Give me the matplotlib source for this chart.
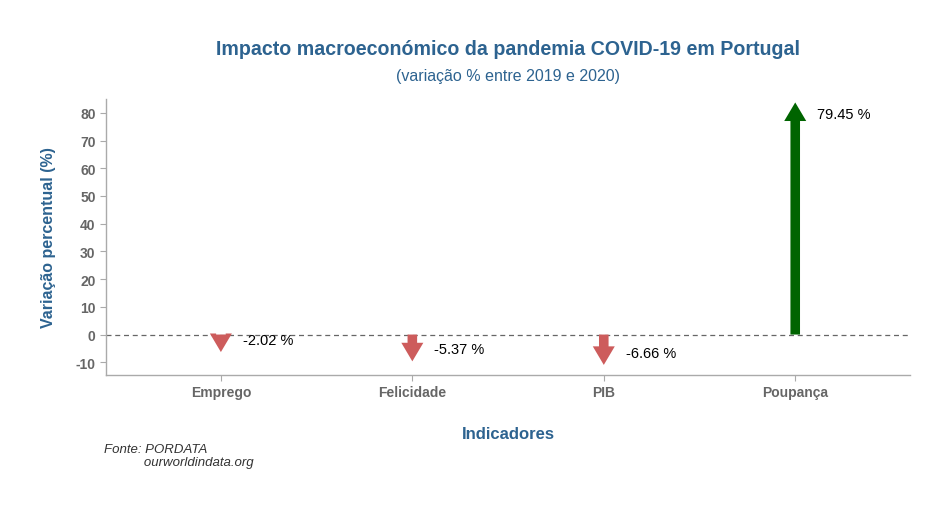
import matplotlib
matplotlib.use("Agg")
import matplotlib.pyplot as plt

# Data
indicadores = ["Emprego", "Felicidade", "PIB", "Poupança"]
variacao = [-2.02, -5.37, -6.66, 79.45]
yticks = [-10, 0, 10, 20, 30, 40, 50, 60, 70, 80]

plt.rcParams['font.family'] = ['Liberation Sans', 'DejaVu Sans']
plt.rcParams['axes.unicode_minus'] = False

azul = '#2d6390'
cinza = '#666666'

fig = plt.figure(figsize=(9.5, 5.06), dpi=100)
ax = fig.add_axes([0.1116, 0.2569, 0.8464, 0.5455])

ax.set_xlim(-0.6, 3.6)
ax.set_ylim(-14.6, 85)

# zero line
ax.axhline(0, color=cinza, linestyle=(0, (4, 3)), linewidth=0.9, zorder=1)

for i, v in enumerate(variacao):
    cor = '#006400' if v > 0 else '#cd5c5c'
    sinal = 1 if v > 0 else -1
    comp = v + sinal * 4.3
    ax.arrow(i, 0, 0, comp, width=0.05, head_width=0.115, head_length=6.7,
             length_includes_head=True, color=cor, linewidth=0, zorder=3)
    ax.text(i + 0.115, v, f"{v:.2f} %", va='center', ha='left',
            fontsize=10.5, color='black')

ax.set_xticks(range(len(indicadores)))
ax.set_xticklabels(indicadores)
ax.set_yticks(yticks)

for s in ['top', 'right']:
    ax.spines[s].set_visible(False)
for s in ['left', 'bottom']:
    ax.spines[s].set_color('#aaaaaa')
    ax.spines[s].set_linewidth(1)

ax.tick_params(colors='#aaaaaa', labelcolor=cinza, length=4, labelsize=10)
for lab in ax.get_xticklabels() + ax.get_yticklabels():
    lab.set_fontweight('bold')

ax.set_xlabel("Indicadores", fontsize=12, fontweight='bold', color=azul, labelpad=19)
ax.set_ylabel("Variação percentual (%)", fontsize=11.5, fontweight='bold', color=azul, labelpad=14)

fig.text(0.535, 0.902, "Impacto macroeconómico da pandemia COVID-19 em Portugal",
         ha='center', va='center', fontsize=14.1, fontweight='bold', color=azul)
fig.text(0.535, 0.849, "(variação % entre 2019 e 2020)",
         ha='center', va='center', fontsize=11.5, color=azul)

fig.text(0.11, 0.098, "Fonte: PORDATA\n           ourworldindata.org",
         ha='left', va='center', fontsize=9.5, style='italic', color='#333333',
         linespacing=1.2)

fig.savefig("out.png", dpi=100)
